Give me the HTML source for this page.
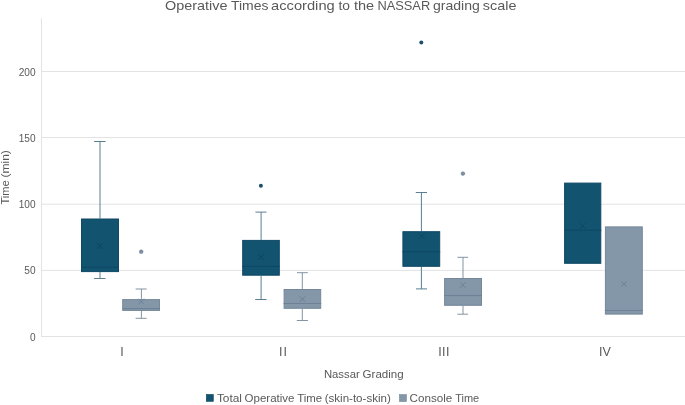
<!DOCTYPE html>
<html><head><meta charset="utf-8">
<style>
html,body{margin:0;padding:0;background:#fff;width:685px;height:405px;overflow:hidden}
svg{display:block}
text{font-family:"Liberation Sans",Arial,sans-serif;fill:#595959}
</style></head>
<body>
<svg width="685" height="405" viewBox="0 0 685 405">
<!-- title -->
<g font-size="13.3">
<text x="165.0" y="10.2" textLength="62.5" lengthAdjust="spacingAndGlyphs">Operative</text>
<text x="231.0" y="10.2" textLength="37.5" lengthAdjust="spacingAndGlyphs">Times</text>
<text x="271.1" y="10.2" textLength="63.6" lengthAdjust="spacingAndGlyphs">according</text>
<text x="338.4" y="10.2" textLength="11.5" lengthAdjust="spacingAndGlyphs">to</text>
<text x="354.0" y="10.2" textLength="20.2" lengthAdjust="spacingAndGlyphs">the</text>
<text x="377.4" y="10.2" textLength="52.8" lengthAdjust="spacingAndGlyphs">NASSAR</text>
<text x="432.9" y="10.2" textLength="46.9" lengthAdjust="spacingAndGlyphs">grading</text>
<text x="482.8" y="10.2" textLength="33.6" lengthAdjust="spacingAndGlyphs">scale</text>
</g>
<!-- gridlines -->
<g stroke="#e3e3e3" stroke-width="1" fill="none">
<line x1="42" y1="71.5" x2="685" y2="71.5"/>
<line x1="42" y1="137.5" x2="685" y2="137.5"/>
<line x1="42" y1="204.2" x2="685" y2="204.2"/>
<line x1="42" y1="270.4" x2="685" y2="270.4"/>
<line x1="41" y1="336.5" x2="685" y2="336.5"/>
<line x1="41.5" y1="18.5" x2="41.5" y2="336.5"/>
</g>
<!-- y labels -->
<g font-size="10.1" text-anchor="end">
<text x="35.5" y="75.6">200</text>
<text x="35.5" y="141.8">150</text>
<text x="35.5" y="208">100</text>
<text x="35.5" y="274.3">50</text>
<text x="35.5" y="340.6">0</text>
</g>
<g font-size="11.5">
<text transform="translate(8.5,204.6) rotate(-90)" textLength="24.2" lengthAdjust="spacingAndGlyphs">Time</text>
<text transform="translate(8.5,177.6) rotate(-90)" textLength="27.5" lengthAdjust="spacingAndGlyphs">(min)</text>
</g>
<!-- x labels -->
<g font-size="12.5" text-anchor="middle">
<text x="122.1" y="356">I</text>
<text x="283.4" y="356" letter-spacing="1">II</text>
<text x="444.1" y="356" letter-spacing="0.5">III</text>
<text x="604.9" y="356">IV</text>
</g>
<g font-size="11.5">
<text x="323.9" y="378.0" textLength="35.9" lengthAdjust="spacingAndGlyphs">Nassar</text>
<text x="362.6" y="378.0" textLength="41.1" lengthAdjust="spacingAndGlyphs">Grading</text>
</g>

<!-- Total series -->
<g id="tot">
<!-- whiskers -->
<g stroke="#5a7e92" stroke-width="1" fill="none">
<line x1="100" y1="141.5" x2="100" y2="218.5"/>
<line x1="94.1" y1="141.5" x2="105.6" y2="141.5"/>
<line x1="100" y1="272.1" x2="100" y2="278.5"/>
<line x1="94.1" y1="278.5" x2="105.5" y2="278.5"/>

<line x1="261.1" y1="212.1" x2="261.1" y2="239.9"/>
<line x1="255.4" y1="212.1" x2="266.5" y2="212.1"/>
<line x1="261.1" y1="275.7" x2="261.1" y2="299.5"/>
<line x1="255.2" y1="299.5" x2="266.5" y2="299.5"/>

<line x1="421.4" y1="192.5" x2="421.4" y2="231.2"/>
<line x1="415.8" y1="192.5" x2="427" y2="192.5"/>
<line x1="421.4" y1="266.8" x2="421.4" y2="288.9"/>
<line x1="416" y1="288.9" x2="427" y2="288.9"/>
</g>
<g fill="#12536f" stroke="#0f4965" stroke-width="1">
<rect x="81.5" y="219.0" width="37" height="52.6"/>
<rect x="242.7" y="240.4" width="36.6" height="34.8"/>
<rect x="402.9" y="231.7" width="36.8" height="34.6"/>
<rect x="564.6" y="183.1" width="36.2" height="80.2"/>
</g>
<g stroke="#0e4865" stroke-width="1" fill="none">
<line x1="81" y1="267.2" x2="119" y2="267.2"/>
<line x1="242.2" y1="266.4" x2="279.8" y2="266.4"/>
<line x1="402.4" y1="251.8" x2="440.2" y2="251.8"/>
<line x1="564.1" y1="230.3" x2="601.3" y2="230.3"/>
</g>
<g stroke="#0f4560" stroke-width="1" fill="none">
<path d="M97,243.2l5.6,5.6M97,248.8l5.6,-5.6"/>
<path d="M258.3,254.4l5.6,5.6M258.3,260l5.6,-5.6"/>
<path d="M418.8,233.5l5.6,5.6M418.8,239.1l5.6,-5.6"/>
<path d="M579.8,223.2l5.6,5.6M579.8,228.8l5.6,-5.6"/>
</g>
<g fill="#1b4f6b">
<circle cx="260.9" cy="185.7" r="2"/>
<circle cx="421.3" cy="42.4" r="2"/>
</g>
</g>

<!-- Console series -->
<g id="con">
<g stroke="#8494a3" stroke-width="1" fill="none">
<line x1="141.4" y1="289" x2="141.4" y2="299.1"/>
<line x1="135.6" y1="289" x2="146.7" y2="289"/>
<line x1="141.4" y1="310.2" x2="141.4" y2="318.3"/>
<line x1="135.6" y1="318.3" x2="146.7" y2="318.3"/>

<line x1="302.3" y1="272.7" x2="302.3" y2="289"/>
<line x1="297" y1="272.7" x2="307.8" y2="272.7"/>
<line x1="302.3" y1="308.8" x2="302.3" y2="320.5"/>
<line x1="296.8" y1="320.5" x2="307.9" y2="320.5"/>

<line x1="463" y1="257.3" x2="463" y2="278"/>
<line x1="457.4" y1="257.3" x2="468.1" y2="257.3"/>
<line x1="463" y1="305.8" x2="463" y2="314.2"/>
<line x1="457.4" y1="314.2" x2="468.1" y2="314.2"/>
</g>
<g fill="#8497a8" stroke="#74889a" stroke-width="1">
<rect x="122.7" y="299.6" width="36.8" height="10.8"/>
<rect x="284.1" y="289.5" width="36.6" height="18.8"/>
<rect x="444.6" y="278.5" width="36.9" height="26.8"/>
<rect x="605.4" y="226.9" width="36.9" height="87.2"/>
</g>
<g stroke="#6c8195" stroke-width="1" fill="none">
<line x1="122.7" y1="308.6" x2="159.5" y2="308.6"/>
<line x1="283.6" y1="303.5" x2="321.2" y2="303.5"/>
<line x1="444.1" y1="295.6" x2="482" y2="295.6"/>
<line x1="604.9" y1="310.4" x2="642.8" y2="310.4"/>
</g>
<g stroke="#6c8195" stroke-width="1" fill="none">
<path d="M138.4,298.7l5.6,5.6M138.4,304.3l5.6,-5.6"/>
<path d="M299.6,296.3l5.6,5.6M299.6,301.9l5.6,-5.6"/>
<path d="M460,282.3l5.6,5.6M460,287.9l5.6,-5.6"/>
<path d="M621.2,281l5.6,5.6M621.2,286.6l5.6,-5.6"/>
</g>
<g fill="#7b8fa1" stroke="#6d8396" stroke-width="0.5">
<circle cx="141.2" cy="251.7" r="1.9"/>
<circle cx="462.9" cy="173.6" r="1.9"/>
</g>
</g>

<!-- legend -->
<rect x="206.3" y="394.4" width="7" height="7" fill="#12536f" stroke="#0f4965" stroke-width="0.6"/>
<g font-size="11.6">
<text x="216.9" y="401.9" textLength="25.1" lengthAdjust="spacingAndGlyphs">Total</text>
<text x="244.6" y="401.9" textLength="49.8" lengthAdjust="spacingAndGlyphs">Operative</text>
<text x="297.3" y="401.9" textLength="24.9" lengthAdjust="spacingAndGlyphs">Time</text>
<text x="324.7" y="401.9" textLength="66.1" lengthAdjust="spacingAndGlyphs">(skin-to-skin)</text>
</g>
<rect x="399.4" y="394.5" width="7.1" height="7.1" fill="#8497a8" stroke="#7a8ea0" stroke-width="0.6"/>
<g font-size="11.6">
<text x="409.6" y="401.9" textLength="42.7" lengthAdjust="spacingAndGlyphs">Console</text>
<text x="455.2" y="401.9" textLength="24.0" lengthAdjust="spacingAndGlyphs">Time</text>
</g>
</svg>
</body></html>
